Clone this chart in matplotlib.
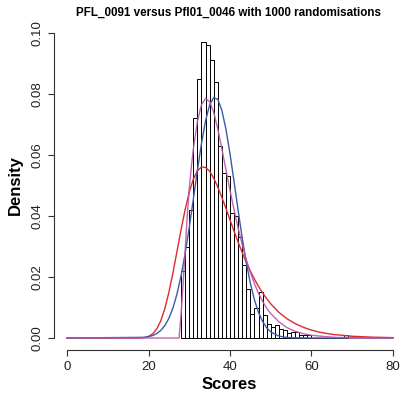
import matplotlib
matplotlib.use('Agg')
import matplotlib.pyplot as plt

plt.rcParams['font.family'] = ['Liberation Sans', 'DejaVu Sans']

title = 'PFL_0091 versus Pfl01_0046 with 1000 randomisations'

# histogram of randomised scores (bin width 1)
bin_left = [28, 29, 30, 31, 32, 33, 34, 35, 36, 37, 38, 39, 40, 41, 42, 43, 44,
            45, 46, 47, 48, 49, 50, 51, 52, 53, 54, 55, 56, 57, 58, 59, 60, 61,
            62, 63, 64, 65, 66, 67, 68]
hist_density = [0.022, 0.030, 0.042, 0.072, 0.085, 0.097, 0.096, 0.091, 0.084,
                0.063, 0.054, 0.053, 0.041, 0.040, 0.033, 0.024, 0.016, 0.008,
                0.010, 0.015, 0.0075, 0.0045, 0.0037, 0.0043, 0.003, 0.0027,
                0.0016, 0.002, 0.002, 0.001, 0.001, 0.001, 0, 0, 0, 0, 0, 0, 0,
                0, 0.001]

# red fitted curve
red_x = [0, 17, 18, 19, 20, 21, 22, 23, 24, 25, 26, 27, 28, 29, 30, 31, 32, 33,
         34, 35, 36, 37, 38, 39, 40, 41, 42, 43, 44, 45, 46, 47, 48, 49, 50,
         52, 54, 56, 58, 60, 62, 65, 70, 75, 80]
red_y = [0, 0.0, 0.00004, 0.00017, 0.00052, 0.00133, 0.00292, 0.0056, 0.00962,
         0.01498, 0.02138, 0.02849, 0.0356, 0.0422, 0.0478, 0.0521, 0.0548,
         0.0561, 0.0559, 0.0547, 0.0524, 0.0495, 0.0461, 0.0425, 0.0387, 0.0350,
         0.0314, 0.0280, 0.0248, 0.0219, 0.0193, 0.0169, 0.0148, 0.0129, 0.0112,
         0.0084, 0.0063, 0.0047, 0.0035, 0.0026, 0.0019, 0.0012, 0.00057,
         0.00027, 0.00012]

# blue fitted curve
blue_x = [0, 19, 20, 21, 22, 23, 24, 25, 26, 27, 28, 29, 30, 31, 32, 33, 34, 35,
          36, 37, 38, 39, 40, 41, 42, 43, 44, 45, 46, 47, 48, 49, 50, 52, 54,
          56, 60, 80]
blue_y = [0, 0.00022, 0.00043, 0.0008, 0.00143, 0.00246, 0.00406, 0.00646,
          0.00986, 0.01449, 0.02046, 0.02778, 0.03628, 0.04554, 0.05498, 0.06381,
          0.07122, 0.07642, 0.07886, 0.07824, 0.07465, 0.06848, 0.0604, 0.05123,
          0.04178, 0.03276, 0.0247, 0.01791, 0.01249, 0.00837, 0.0054, 0.00334,
          0.00199, 0.00063, 0.00017, 0.00004, 0, 0]

# purple fitted curve (starts at the lowest score)
pink_x = [0, 27.5, 28, 28.5, 29, 29.5, 30, 30.5, 31, 32, 33, 34, 35, 36, 37, 38,
          39, 40, 41, 42, 43, 44, 45, 46, 47, 48, 49, 50, 52, 54, 56, 58, 60, 63,
          66, 70, 75, 80]
pink_y = [0, 0, 0.008, 0.018, 0.029, 0.040, 0.049, 0.056, 0.062, 0.0710, 0.0765,
          0.0785, 0.0775, 0.0740, 0.0685, 0.0620, 0.0552, 0.0484, 0.0420, 0.0360,
          0.0306, 0.0257, 0.0215, 0.0178, 0.0146, 0.0120, 0.0098, 0.0080, 0.0053,
          0.0034, 0.0022, 0.0014, 0.0009, 0.0005, 0.0002, 0.0001, 0.0, 0.0]

x_ticks = [0, 20, 40, 60, 80]
y_ticks = [0.00, 0.02, 0.04, 0.06, 0.08, 0.10]
y_tick_labels = ['0.00', '0.02', '0.04', '0.06', '0.08', '0.10']

fig = plt.figure(figsize=(4.05, 3.98), dpi=100)
ax = fig.add_axes([0.1333, 0.1201, 0.8632, 0.8276])

ax.bar(bin_left, hist_density, width=1, align='edge', color='white',
       edgecolor='black', linewidth=0.7)
ax.plot(red_x, red_y, color='#dd2a30', lw=1.0)
ax.plot(blue_x, blue_y, color='#3d5aa6', lw=1.0)
ax.plot(pink_x, pink_y, color='#b954a8', lw=1.0, alpha=0.9)

ax.set_xlim(-3.2, 82.6)
ax.set_ylim(-0.004, 0.104)

for s in ['top', 'right']:
    ax.spines[s].set_visible(False)
ax.spines['left'].set_bounds(0, 0.10)
ax.spines['bottom'].set_bounds(0, 80)
ax.spines['left'].set_linewidth(0.8)
ax.spines['bottom'].set_linewidth(0.8)
ax.spines['left'].set_color('#333333')
ax.spines['bottom'].set_color('#333333')

ax.set_xticks(x_ticks)
ax.set_yticks(y_ticks)
ax.set_yticklabels(y_tick_labels, rotation=90, va='center')
ax.tick_params(length=4, width=0.8, color='#333333', labelsize=9.5,
               labelcolor='#222222', pad=3.5)

ax.set_xlabel('Scores', fontsize=12, fontweight='bold', labelpad=3)
ax.set_ylabel('Density', fontsize=12, fontweight='bold', labelpad=6)
fig.text(0.565, 0.968, title, ha='center', va='center', fontsize=8.4,
         fontweight='bold')

fig.savefig('out.png', dpi=100)
